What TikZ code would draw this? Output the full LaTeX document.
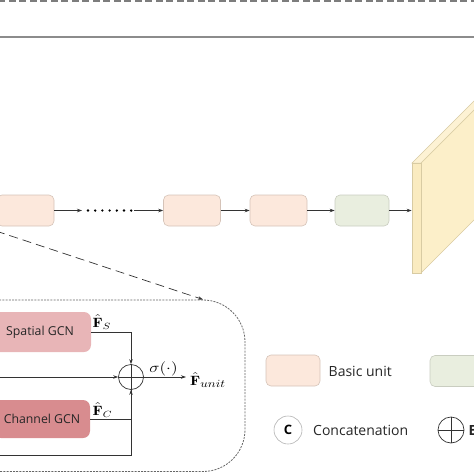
\documentclass[tikz,border=0pt]{standalone}
\usepackage{fontspec}
\setsansfont{Open Sans}
\usepackage{amsmath}
\usepackage{graphicx}
\usetikzlibrary{arrows.meta}
\definecolor{unitfill}{HTML}{FCE8DC}
\definecolor{unitdraw}{HTML}{D5C3B8}
\definecolor{greenfill}{HTML}{E9EEDF}
\definecolor{greendraw}{HTML}{C9CDC0}
\definecolor{spfill}{HTML}{E8B5B7}
\definecolor{chfill}{HTML}{D88C8F}
\definecolor{slabfill}{HTML}{FCEFC9}
\definecolor{slabside}{HTML}{FAEBC0}
\definecolor{slabdraw}{HTML}{D8CBA3}
\definecolor{linecol}{HTML}{333333}
\definecolor{framecol}{HTML}{666666}
\tikzset{
  unitbox/.style={draw=unitdraw, fill=unitfill, rounded corners=5pt, line width=0.6pt, minimum width=57pt, minimum height=31pt, inner sep=0pt},
  greenbox/.style={draw=greendraw, fill=greenfill, rounded corners=5pt, line width=0.6pt, minimum width=54pt, minimum height=31pt, inner sep=0pt},
  gcnbox/.style={rounded corners=7pt, inner sep=0pt, font=\sffamily\fontsize{12.3}{14}\selectfont, text=black!85},
  arr/.style={draw=linecol, line width=0.7pt, -{Stealth[length=5pt,width=3.5pt]}},
  plain/.style={draw=linecol, line width=0.7pt},
  mathlbl/.style={inner sep=0pt, font=\fontsize{13.5}{15}\selectfont},
  legtext/.style={anchor=west, inner sep=0pt, font=\sffamily\fontsize{14}{16}\selectfont, text=black!85},
}
\newcommand{\mstretch}[1]{\scalebox{1.2}[1]{#1}}
\begin{document}
\begin{tikzpicture}[x=1pt,y=-1pt]
\useasboundingbox (0,0) rectangle (474,474);
\clip (0,0) rectangle (474,474);

% top frame lines
\draw[framecol!85!white, line width=3pt, dash pattern=on 7pt off 3.5pt] (-2,0) -- (476,0);
\draw[black!45, line width=1.3pt] (0,37) -- (474,37);

% main row of units
\node[unitbox] (u1) at (25.5,210.5) {};
\node[unitbox] (u2) at (192,210.5) {};
\node[unitbox] (u3) at (278.5,210.5) {};
\node[greenbox] (g1) at (362,210.5) {};
\coordinate (d1) at (82,210.5);
\coordinate (d2) at (134,210.5);
\draw[arr] (u1.east) -- (d1);
\foreach \i in {0,...,6} \fill[black] (88+7.2*\i,210.5) circle (1.3pt);
\draw[arr] (d2) -- (u2.west);
\draw[arr] (u2.east) -- (u3.west);
\draw[arr] (u3.east) -- (g1.west);

% slab
\fill[slabfill, draw=slabdraw, line width=0.5pt] (421,163) -- (541,43) -- (541,153) -- (421,273) -- cycle;
\fill[slabfill!80!white, draw=slabdraw, line width=0.5pt] (412,163) -- (532,43) -- (541,43) -- (421,163) -- cycle;
\node[draw=slabdraw, fill=slabside, line width=0.6pt, minimum width=9pt, minimum height=110pt, inner sep=0pt] (slab) at (416.5,218) {};
\draw[arr] (g1.east) -- (g1.east -| slab.west);

% dashed zoom arrow
\coordinate (zs) at (-4,231);
\coordinate (zt) at (203,299.5);
\draw[linecol, line width=0.7pt, dash pattern=on 9pt off 5pt, -{Stealth[length=5pt,width=3.5pt]}] (zs) -- (zt);

% detail frame
\draw[framecol, line width=0.8pt, dash pattern=on 2pt off 1.2pt, rounded corners=42pt] (-20,300) -- (245,300) -- (245,471.5) -- (-20,471.5);

% GCN boxes
\node[gcnbox, fill=spfill, minimum width=102pt, minimum height=40pt] (sp) at (40,332) {Spatial GCN};
\node[gcnbox, fill=chfill, minimum width=96pt, minimum height=38pt] (ch) at (42,419) {Channel GCN};

% addition node
\node[circle, draw=linecol, line width=0.7pt, minimum size=25pt, inner sep=0pt] (op) at (131,377) {};
\draw[plain] (op.north) -- (op.south) (op.west) -- (op.east);

\coordinate (in) at (-2,377);
\coordinate (bot) at (-2,455);
\coordinate (out) at (186,377);
\draw[arr] (in) -- (op.west);
\draw[arr] (sp.east) -| (op.north);
\draw[plain] (ch.east) -| (op.south);
\draw[arr] (bot) -| (op.south);
\draw[arr] (op.east) -- (out);

\node[mathlbl, anchor=base west] (fs) at (92.5,327.5) {\mstretch{$\hat{\mathbf{F}}_S$}};
\node[mathlbl, anchor=base west] (fc) at (92.5,415) {\mstretch{$\hat{\mathbf{F}}_C$}};
\node[mathlbl, anchor=base] (sig) at (163.5,372) {\mstretch{$\sigma(\cdot)$}};
\node[mathlbl, anchor=base west] (fu) at (190,385) {\mstretch{$\hat{\mathbf{F}}_{\mbox{\fontsize{11}{12}\selectfont$unit$}}$}};

% legend
\node[unitbox, minimum width=54pt] (lu) at (293,370.5) {};
\node[legtext] (lut) at (328.5,371) {Basic unit};
\node[greenbox] (lg) at (457,371) {};
\node[circle, draw=black!30, line width=0.6pt, minimum size=28pt, inner sep=0pt, font=\sffamily\bfseries\fontsize{13}{15}\selectfont] (lc) at (288,430) {C};
\node[legtext] (lct) at (313,430) {Concatenation};
\node[circle, draw=linecol, line width=0.7pt, minimum size=26pt, inner sep=0pt] (lo) at (451,430) {};
\draw[plain] (lo.north) -- (lo.south) (lo.west) -- (lo.east);
\node[legtext, font=\sffamily\bfseries\fontsize{14}{16}\selectfont] (lot) at (468.5,430) {E};
\end{tikzpicture}
\end{document}
